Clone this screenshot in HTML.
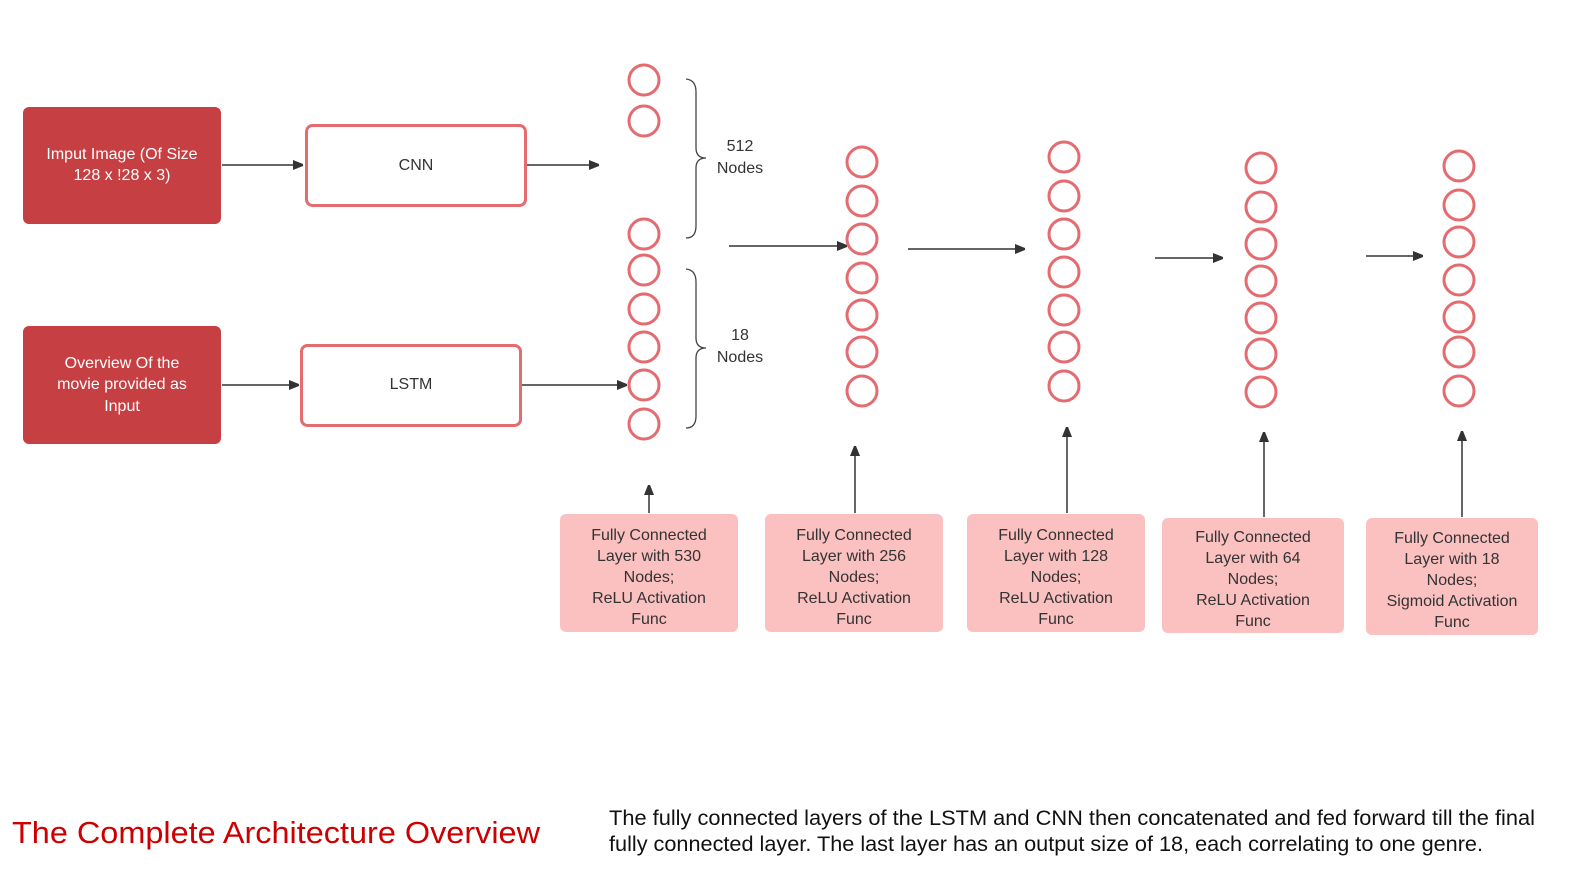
<!DOCTYPE html>
<html><head><meta charset="utf-8"><style>
html,body{margin:0;padding:0;background:#fff;}
svg{display:block;}
text{font-family:"Liberation Sans",sans-serif;}
</style></head><body>
<svg width="1586" height="887" viewBox="0 0 1586 887" xmlns="http://www.w3.org/2000/svg">
<defs>
<marker id="ah" markerWidth="10" markerHeight="10" refX="9" refY="5" orient="auto" markerUnits="userSpaceOnUse">
<path d="M0,0 L14,5 L0,10 Z" fill="#333" transform="scale(0.9,1)"/>
</marker>
</defs>
<!-- red boxes -->
<rect x="23" y="107" width="198" height="117" rx="6" fill="#c64043"/>
<text fill="#fff" font-size="16" text-anchor="middle"><tspan x="122" y="159">Imput Image (Of Size</tspan><tspan x="122" y="180">128 x !28 x 3)</tspan></text>
<rect x="23" y="326" width="198" height="118" rx="6" fill="#c64043"/>
<text fill="#fff" font-size="16" text-anchor="middle"><tspan x="122" y="368">Overview Of the</tspan><tspan x="122" y="389">movie provided as</tspan><tspan x="122" y="411">Input</tspan></text>
<!-- CNN / LSTM -->
<rect x="306.5" y="125.5" width="219" height="80" rx="6" fill="#fff" stroke="#e46b70" stroke-width="3"/>
<text x="416" y="170" font-size="16" text-anchor="middle" fill="#333">CNN</text>
<rect x="301.5" y="345.5" width="219" height="80" rx="6" fill="#fff" stroke="#e46b70" stroke-width="3"/>
<text x="411" y="389" font-size="16" text-anchor="middle" fill="#333">LSTM</text>
<!-- arrows -->
<g stroke="#333" stroke-width="1.5" fill="none" marker-end="url(#ah)">
<line x1="222" y1="165" x2="302" y2="165"/>
<line x1="527" y1="165" x2="598" y2="165"/>
<line x1="222" y1="385" x2="298" y2="385"/>
<line x1="522" y1="385" x2="626" y2="385"/>
<line x1="729" y1="246" x2="846" y2="246"/>
<line x1="908" y1="249" x2="1024" y2="249"/>
<line x1="1155" y1="258" x2="1222" y2="258"/>
<line x1="1366" y1="256" x2="1422" y2="256"/>
<line x1="649" y1="513" x2="649" y2="486"/>
<line x1="855" y1="513" x2="855" y2="447"/>
<line x1="1067" y1="513" x2="1067" y2="428"/>
<line x1="1264" y1="517" x2="1264" y2="433"/>
<line x1="1462" y1="517" x2="1462" y2="432"/>
</g>
<!-- braces -->
<g stroke="#444" stroke-width="1.3" fill="none">
<path d="M686,79 Q696,80 696,92 L696,148 Q696,158 706,158 Q696,158 696,168 L696,226 Q696,238 686,238"/>
<path d="M686,269 Q696,270 696,282 L696,338 Q696,348 706,348 Q696,348 696,358 L696,416 Q696,428 686,428"/>
</g>
<text font-size="16" fill="#333" text-anchor="middle"><tspan x="740" y="151">512</tspan><tspan x="740" y="173">Nodes</tspan></text>
<text font-size="16" fill="#333" text-anchor="middle"><tspan x="740" y="340">18</tspan><tspan x="740" y="362">Nodes</tspan></text>
<!-- circles -->
<g fill="#fff" stroke="#e46b70" stroke-width="3">
<circle cx="644" cy="80" r="15"/><circle cx="644" cy="121" r="15"/><circle cx="644" cy="234" r="15"/><circle cx="644" cy="270" r="15"/><circle cx="644" cy="309" r="15"/><circle cx="644" cy="347" r="15"/><circle cx="644" cy="385" r="15"/><circle cx="644" cy="424" r="15"/>
<circle cx="862" cy="162" r="15"/><circle cx="862" cy="201" r="15"/><circle cx="862" cy="239" r="15"/><circle cx="862" cy="278" r="15"/><circle cx="862" cy="315" r="15"/><circle cx="862" cy="352" r="15"/><circle cx="862" cy="391" r="15"/>
<circle cx="1064" cy="157" r="15"/><circle cx="1064" cy="196" r="15"/><circle cx="1064" cy="234" r="15"/><circle cx="1064" cy="272" r="15"/><circle cx="1064" cy="310" r="15"/><circle cx="1064" cy="347" r="15"/><circle cx="1064" cy="386" r="15"/>
<circle cx="1261" cy="168" r="15"/><circle cx="1261" cy="207" r="15"/><circle cx="1261" cy="244" r="15"/><circle cx="1261" cy="281" r="15"/><circle cx="1261" cy="318" r="15"/><circle cx="1261" cy="354" r="15"/><circle cx="1261" cy="392" r="15"/>
<circle cx="1459" cy="166" r="15"/><circle cx="1459" cy="205" r="15"/><circle cx="1459" cy="242" r="15"/><circle cx="1459" cy="280" r="15"/><circle cx="1459" cy="317" r="15"/><circle cx="1459" cy="352" r="15"/><circle cx="1459" cy="391" r="15"/>
</g>
<!-- pink boxes -->
<g fill="#fbc0c0">
<rect x="560" y="514" width="178" height="118" rx="6"/>
<rect x="765" y="514" width="178" height="118" rx="6"/>
<rect x="967" y="514" width="178" height="118" rx="6"/>
<rect x="1162" y="518" width="182" height="115" rx="6"/>
<rect x="1366" y="518" width="172" height="117" rx="6"/>
</g>
<g font-size="16" fill="#333" text-anchor="middle">
<text><tspan x="649" y="540">Fully Connected</tspan><tspan x="649" y="561">Layer with 530</tspan><tspan x="649" y="582">Nodes;</tspan><tspan x="649" y="603">ReLU Activation</tspan><tspan x="649" y="624">Func</tspan></text>
<text><tspan x="854" y="540">Fully Connected</tspan><tspan x="854" y="561">Layer with 256</tspan><tspan x="854" y="582">Nodes;</tspan><tspan x="854" y="603">ReLU Activation</tspan><tspan x="854" y="624">Func</tspan></text>
<text><tspan x="1056" y="540">Fully Connected</tspan><tspan x="1056" y="561">Layer with 128</tspan><tspan x="1056" y="582">Nodes;</tspan><tspan x="1056" y="603">ReLU Activation</tspan><tspan x="1056" y="624">Func</tspan></text>
<text><tspan x="1253" y="542">Fully Connected</tspan><tspan x="1253" y="563">Layer with 64</tspan><tspan x="1253" y="584">Nodes;</tspan><tspan x="1253" y="605">ReLU Activation</tspan><tspan x="1253" y="626">Func</tspan></text>
<text><tspan x="1452" y="543">Fully Connected</tspan><tspan x="1452" y="564">Layer with 18</tspan><tspan x="1452" y="585">Nodes;</tspan><tspan x="1452" y="606">Sigmoid Activation</tspan><tspan x="1452" y="627">Func</tspan></text>
</g>
<!-- bottom text -->
<text x="12" y="843" font-size="31" fill="#cc0000" textLength="528" lengthAdjust="spacingAndGlyphs">The Complete Architecture Overview</text>
<text x="609" y="825" font-size="21" fill="#111" textLength="926" lengthAdjust="spacingAndGlyphs">The fully connected layers of the LSTM and CNN then concatenated and fed forward till the final</text>
<text x="609" y="851" font-size="21" fill="#111" textLength="874" lengthAdjust="spacingAndGlyphs">fully connected layer. The last layer has an output size of 18, each correlating to one genre.</text>
</svg>
</body></html>
